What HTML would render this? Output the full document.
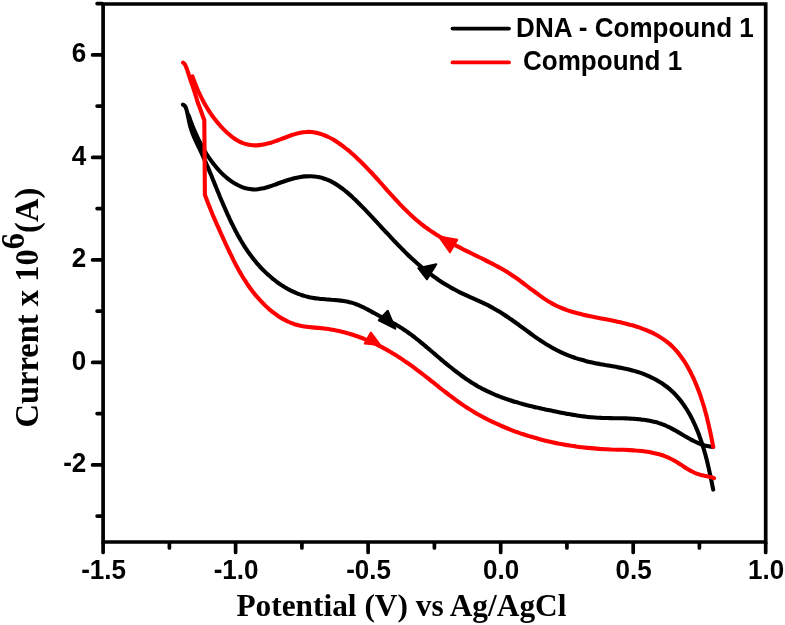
<!DOCTYPE html>
<html><head><meta charset="utf-8"><title>Cyclic voltammogram</title>
<style>
html,body{margin:0;padding:0;background:#fff;}
body{width:785px;height:625px;overflow:hidden;}
svg{display:block;filter:blur(0.4px);}
.ar text{font-family:"Liberation Sans",Arial,sans-serif;font-weight:bold;font-size:27.4px;fill:#000;}
.ar text.lg{font-size:27px;}
.tm text{font-family:"Liberation Serif","Times New Roman",serif;font-weight:bold;font-size:30px;fill:#000;}
</style></head><body>
<svg width="785" height="625" viewBox="0 0 785 625">
<rect width="785" height="625" fill="#fff"/>
<g stroke="#000" stroke-width="3.7" fill="none" stroke-linecap="round">
<path d="M103.1 4.0H765.7V542.0H103.1Z" stroke-linejoin="miter" stroke-linecap="butt"/>
<path d="M103.1 543.0V552.5M235.6 543.0V552.5M368.1 543.0V552.5M500.7 543.0V552.5M633.2 543.0V552.5M765.7 543.0V552.5M169.4 543.0V548.0M301.9 543.0V548.0M434.4 543.0V548.0M566.9 543.0V548.0M699.4 543.0V548.0M102.1 54.9H92.6M102.1 157.4H92.6M102.1 259.9H92.6M102.1 362.4H92.6M102.1 464.9H92.6M102.1 3.6H97.1M102.1 106.1H97.1M102.1 208.6H97.1M102.1 311.1H97.1M102.1 413.6H97.1M102.1 516.1H97.1"/>
</g>
<g fill="none" stroke-width="4.1" stroke-linecap="round" stroke-linejoin="round">
<path stroke="#000" d="M188.7 115.5C189.1 116.4 190.0 119.3 190.7 121.2C191.4 123.1 192.1 125.0 192.8 126.9C193.6 128.7 194.4 130.6 195.2 132.4C196.0 134.2 196.8 136.0 197.7 137.9C198.6 139.7 199.5 141.5 200.4 143.2C201.4 145.0 202.3 146.8 203.3 148.6C204.3 150.3 205.4 152.1 206.4 153.8C207.5 155.5 208.6 157.2 209.8 158.9C211.0 160.6 212.2 162.2 213.4 163.8C214.7 165.4 216.0 167.0 217.4 168.6C218.7 170.1 220.2 171.6 221.6 173.1C223.1 174.6 224.7 176.0 226.2 177.3C227.8 178.6 229.4 179.9 231.1 181.1C232.7 182.2 234.4 183.3 236.2 184.3C237.9 185.2 239.7 186.1 241.5 186.8C243.3 187.5 245.1 188.1 246.9 188.6C248.8 189.0 250.6 189.3 252.5 189.4C254.4 189.5 256.2 189.4 258.1 189.2C260.0 189.0 261.9 188.6 263.9 188.2C265.8 187.7 267.7 187.1 269.6 186.5C271.6 185.9 273.5 185.2 275.5 184.5C277.4 183.7 279.4 183.0 281.4 182.3C283.3 181.6 285.3 180.9 287.3 180.2C289.3 179.6 291.3 179.0 293.3 178.5C295.3 178.0 297.3 177.6 299.2 177.2C301.2 176.9 303.2 176.6 305.2 176.4C307.1 176.2 309.1 176.2 311.0 176.2C312.9 176.2 314.8 176.4 316.7 176.7C318.6 176.9 320.5 177.3 322.3 177.9C324.1 178.4 325.9 179.1 327.7 179.8C329.4 180.6 331.2 181.4 332.9 182.4C334.6 183.3 336.3 184.4 338.0 185.5C339.7 186.6 341.3 187.8 342.9 189.0C344.5 190.3 346.1 191.6 347.7 192.9C349.3 194.3 350.9 195.7 352.4 197.1C353.9 198.6 355.5 200.0 357.0 201.5C358.5 203.0 359.9 204.5 361.4 205.9C362.9 207.4 364.3 208.9 365.8 210.4C367.2 211.9 368.6 213.4 370.0 214.9C371.4 216.4 372.8 217.9 374.2 219.4C375.6 220.9 377.0 222.4 378.4 223.9C379.8 225.3 381.1 226.8 382.5 228.3C383.9 229.8 385.2 231.3 386.6 232.7C388.0 234.2 389.3 235.7 390.7 237.1C392.1 238.6 393.4 240.1 394.8 241.5C396.2 242.9 397.5 244.4 398.9 245.8C400.3 247.2 401.7 248.6 403.1 250.0C404.5 251.4 405.9 252.8 407.3 254.2C408.7 255.6 410.1 256.9 411.6 258.3C413.0 259.6 414.5 261.0 416.0 262.3C417.4 263.6 418.9 264.9 420.5 266.2C422.0 267.5 423.5 268.8 425.1 270.0C426.6 271.2 428.2 272.5 429.8 273.7C431.4 274.9 433.0 276.1 434.7 277.2C436.3 278.4 438.0 279.6 439.7 280.7C441.4 281.8 443.1 282.9 444.9 284.0C446.6 285.0 448.4 286.1 450.1 287.1C451.9 288.1 453.7 289.1 455.5 290.0C457.3 291.0 459.1 291.9 460.9 292.8C462.7 293.7 464.6 294.6 466.4 295.4C468.2 296.3 470.1 297.1 471.9 297.9C473.8 298.7 475.6 299.5 477.4 300.3C479.3 301.1 481.1 302.0 482.9 302.8C484.7 303.7 486.5 304.5 488.3 305.4C490.0 306.3 491.8 307.3 493.5 308.3C495.3 309.2 497.0 310.3 498.7 311.3C500.4 312.3 502.1 313.4 503.8 314.5C505.4 315.6 507.1 316.7 508.8 317.8C510.4 319.0 512.1 320.1 513.7 321.3C515.4 322.5 517.0 323.6 518.7 324.8C520.3 326.0 521.9 327.2 523.6 328.4C525.2 329.6 526.8 330.8 528.5 332.0C530.1 333.2 531.7 334.4 533.4 335.6C535.0 336.7 536.7 337.9 538.4 339.1C540.0 340.2 541.7 341.3 543.4 342.4C545.1 343.5 546.8 344.6 548.5 345.6C550.3 346.7 552.0 347.7 553.8 348.6C555.5 349.6 557.3 350.5 559.1 351.4C560.9 352.2 562.7 353.1 564.6 353.8C566.4 354.6 568.3 355.4 570.2 356.1C572.0 356.8 573.9 357.4 575.8 358.1C577.7 358.7 579.7 359.3 581.6 359.8C583.5 360.4 585.5 360.9 587.4 361.4C589.4 361.9 591.4 362.3 593.3 362.7C595.3 363.2 597.3 363.6 599.3 363.9C601.2 364.3 603.2 364.6 605.2 365.0C607.2 365.3 609.2 365.7 611.2 366.0C613.2 366.4 615.2 366.7 617.2 367.1C619.2 367.4 621.2 367.8 623.1 368.2C625.1 368.6 627.1 369.0 629.0 369.5C631.0 370.0 633.0 370.5 634.9 371.1C636.8 371.7 638.8 372.3 640.7 372.9C642.6 373.6 644.5 374.3 646.3 375.1C648.2 375.9 650.0 376.7 651.8 377.6C653.6 378.4 655.4 379.4 657.2 380.4C658.9 381.4 660.6 382.4 662.3 383.5C663.9 384.6 665.5 385.8 667.1 387.0C668.7 388.2 670.2 389.5 671.6 390.9C673.1 392.2 674.5 393.6 675.9 395.1C677.2 396.6 678.5 398.1 679.8 399.6C681.1 401.2 682.3 402.8 683.4 404.5C684.6 406.1 685.7 407.8 686.8 409.5C687.9 411.3 688.9 413.0 689.9 414.8C690.9 416.6 691.8 418.4 692.7 420.2C693.6 422.1 694.5 423.9 695.3 425.8C696.1 427.7 696.9 429.5 697.7 431.4C698.4 433.3 699.2 435.2 699.8 437.1C700.5 439.0 701.2 440.9 701.8 442.8C702.4 444.7 703.0 446.6 703.6 448.5C704.2 450.5 704.7 452.4 705.3 454.3C705.8 456.2 706.3 458.2 706.8 460.1C707.3 462.0 707.7 464.0 708.2 465.9C708.6 467.9 709.1 469.8 709.5 471.8C709.9 473.8 710.4 475.7 710.8 477.7C711.2 479.7 711.6 481.6 712.0 483.6C712.4 485.6 713.0 488.6 713.2 489.6"/>
<path stroke="#000" d="M183.0 104.6C183.4 104.9 184.7 105.8 185.3 106.6C185.8 107.4 186.1 108.4 186.4 109.4C186.7 110.3 186.9 111.3 187.2 112.3C187.4 113.3 187.6 114.2 187.8 115.2C188.0 116.2 188.2 117.2 188.4 118.2C188.6 119.2 188.8 120.2 189.0 121.2C189.2 122.2 189.4 123.1 189.7 124.1C189.9 125.1 190.2 126.1 190.4 127.0C190.7 128.0 191.0 128.9 191.3 129.9C191.6 130.8 192.0 131.8 192.3 132.7C192.7 133.6 193.0 134.5 193.4 135.5C193.8 136.4 194.2 137.3 194.6 138.2C195.0 139.1 195.4 140.0 195.8 140.9C196.2 141.8 196.6 142.7 197.0 143.6C197.5 144.5 197.9 145.4 198.3 146.3C198.7 147.2 199.2 148.1 199.6 149.0C200.0 149.9 200.5 150.8 200.9 151.7C201.3 152.7 201.8 153.6 202.2 154.5C202.6 155.4 203.0 156.3 203.4 157.2C203.8 158.1 204.3 159.0 204.7 160.0C205.1 160.9 205.5 161.8 205.9 162.7C206.3 163.7 206.7 164.6 207.1 165.5C207.5 166.4 207.9 167.4 208.3 168.3C208.7 169.2 209.1 170.2 209.4 171.1C209.8 172.0 210.2 173.0 210.6 173.9C211.0 174.8 211.4 175.8 211.8 176.7C212.2 177.6 212.5 178.6 212.9 179.5C213.3 180.5 213.7 181.4 214.1 182.3C214.5 183.3 214.8 184.2 215.2 185.2C215.6 186.1 216.0 187.0 216.4 188.0C216.8 188.9 217.1 189.9 217.5 190.8C217.9 191.7 218.3 192.7 218.7 193.6C219.1 194.6 219.5 195.5 219.8 196.4C220.2 197.4 220.6 198.3 221.0 199.2C221.4 200.2 221.8 201.1 222.2 202.0C222.6 203.0 223.0 203.9 223.4 204.8C223.8 205.8 224.2 206.7 224.6 207.6C225.0 208.6 225.4 209.5 225.8 210.4C226.2 211.3 226.6 212.3 227.0 213.2C227.4 214.1 227.8 215.0 228.3 215.9C228.7 216.8 229.1 217.8 229.5 218.7C229.9 219.6 230.4 220.5 230.8 221.4C231.2 222.3 231.7 223.2 232.1 224.1C232.6 225.0 233.0 225.9 233.5 226.8C233.9 227.7 234.4 228.6 234.8 229.5C235.3 230.4 235.7 231.3 236.2 232.1C236.7 233.0 237.2 233.9 237.6 234.8C238.1 235.6 238.6 236.5 239.1 237.4C239.6 238.2 240.1 239.1 240.6 240.0C241.1 240.8 241.6 241.7 242.1 242.5C242.6 243.4 243.1 244.2 243.7 245.1C244.2 245.9 244.7 246.7 245.3 247.6C245.8 248.4 246.4 249.2 246.9 250.0C247.5 250.9 248.1 251.7 248.6 252.5C249.2 253.3 249.8 254.1 250.4 254.9C250.9 255.7 251.5 256.5 252.1 257.3C252.7 258.1 253.4 258.9 254.0 259.6C254.6 260.4 255.2 261.2 255.9 261.9C256.5 262.7 257.1 263.5 257.8 264.2C258.5 265.0 259.1 265.7 259.8 266.5C260.5 267.2 261.1 267.9 261.8 268.6C262.5 269.4 263.2 270.1 263.9 270.8C264.7 271.5 265.4 272.2 266.1 272.9C266.8 273.6 267.6 274.3 268.3 274.9C269.1 275.6 269.8 276.3 270.6 276.9C271.3 277.6 272.1 278.2 272.9 278.9C273.7 279.5 274.5 280.1 275.3 280.7C276.1 281.4 276.9 282.0 277.7 282.6C278.5 283.1 279.3 283.7 280.1 284.3C281.0 284.8 281.8 285.4 282.7 285.9C283.5 286.5 284.4 287.0 285.2 287.5C286.1 288.0 286.9 288.5 287.8 289.0C288.7 289.5 289.6 289.9 290.5 290.4C291.4 290.8 292.3 291.3 293.2 291.7C294.1 292.1 295.0 292.5 295.9 292.9C296.8 293.3 297.7 293.7 298.7 294.0C299.6 294.4 300.5 294.7 301.5 295.0C302.4 295.3 303.4 295.6 304.3 295.9C305.3 296.2 306.3 296.5 307.2 296.7C308.2 297.0 309.2 297.2 310.2 297.4C311.2 297.6 312.1 297.8 313.1 297.9C314.1 298.1 315.1 298.2 316.1 298.4C317.1 298.5 318.2 298.6 319.2 298.7C320.2 298.9 321.2 299.0 322.2 299.0C323.2 299.1 324.2 299.2 325.3 299.3C326.3 299.4 327.3 299.5 328.3 299.5C329.4 299.6 330.4 299.7 331.4 299.8C332.4 299.8 333.4 299.9 334.4 300.0C335.5 300.1 336.5 300.2 337.5 300.3C338.5 300.4 339.5 300.5 340.5 300.6C341.5 300.7 342.5 300.9 343.5 301.0C344.5 301.2 345.5 301.4 346.5 301.5C347.5 301.7 348.4 301.9 349.4 302.2C350.4 302.4 351.3 302.6 352.3 302.9C353.3 303.2 354.2 303.5 355.1 303.8C356.1 304.2 357.0 304.5 357.9 304.9C358.9 305.3 359.8 305.7 360.7 306.1C361.6 306.5 362.5 306.9 363.4 307.3C364.3 307.8 365.2 308.2 366.1 308.7C367.0 309.2 367.9 309.6 368.8 310.1C369.7 310.6 370.6 311.1 371.4 311.6C372.3 312.1 373.2 312.6 374.1 313.0C375.0 313.5 375.9 314.0 376.8 314.5C377.7 315.0 378.6 315.5 379.5 316.0C380.3 316.4 381.2 316.9 382.1 317.4C383.0 317.8 383.9 318.3 384.8 318.8C385.7 319.2 386.6 319.7 387.5 320.2C388.4 320.6 389.3 321.1 390.2 321.6C391.1 322.0 392.0 322.5 392.9 323.0C393.7 323.5 394.6 324.0 395.5 324.4C396.4 324.9 397.2 325.4 398.1 325.9C398.9 326.5 399.8 327.0 400.6 327.5C401.5 328.0 402.3 328.6 403.1 329.1C404.0 329.7 404.8 330.2 405.6 330.8C406.5 331.3 407.3 331.9 408.1 332.5C408.9 333.1 409.7 333.7 410.5 334.2C411.3 334.8 412.1 335.4 412.9 336.0C413.7 336.6 414.5 337.3 415.3 337.9C416.1 338.5 416.8 339.1 417.6 339.7C418.4 340.3 419.2 341.0 420.0 341.6C420.7 342.2 421.5 342.9 422.3 343.5C423.1 344.1 423.8 344.8 424.6 345.4C425.4 346.1 426.1 346.7 426.9 347.4C427.7 348.0 428.4 348.7 429.2 349.3C430.0 350.0 430.7 350.6 431.5 351.3C432.3 351.9 433.0 352.6 433.8 353.2C434.6 353.9 435.3 354.6 436.1 355.2C436.9 355.9 437.6 356.5 438.4 357.2C439.2 357.8 439.9 358.5 440.7 359.1C441.5 359.8 442.3 360.4 443.0 361.1C443.8 361.7 444.6 362.4 445.4 363.0C446.1 363.7 446.9 364.3 447.7 364.9C448.5 365.6 449.3 366.2 450.0 366.8C450.8 367.5 451.6 368.1 452.4 368.7C453.2 369.4 454.0 370.0 454.8 370.6C455.6 371.2 456.4 371.8 457.2 372.4C458.0 373.0 458.8 373.6 459.6 374.2C460.4 374.8 461.2 375.4 462.0 376.0C462.8 376.6 463.6 377.2 464.5 377.8C465.3 378.3 466.1 378.9 466.9 379.5C467.8 380.0 468.6 380.6 469.4 381.1C470.3 381.7 471.1 382.2 471.9 382.8C472.8 383.3 473.6 383.8 474.5 384.3C475.4 384.9 476.2 385.4 477.1 385.9C477.9 386.4 478.8 386.9 479.7 387.3C480.6 387.8 481.4 388.3 482.3 388.8C483.2 389.2 484.1 389.7 485.0 390.1C485.9 390.6 486.8 391.0 487.7 391.4C488.6 391.9 489.5 392.3 490.4 392.7C491.3 393.1 492.2 393.5 493.2 393.9C494.1 394.3 495.0 394.7 495.9 395.1C496.9 395.5 497.8 395.8 498.7 396.2C499.7 396.6 500.6 396.9 501.5 397.3C502.5 397.6 503.4 398.0 504.4 398.3C505.3 398.6 506.3 399.0 507.2 399.3C508.2 399.6 509.1 399.9 510.1 400.3C511.0 400.6 512.0 400.9 513.0 401.2C513.9 401.5 514.9 401.8 515.9 402.1C516.8 402.3 517.8 402.6 518.8 402.9C519.7 403.2 520.7 403.5 521.7 403.7C522.6 404.0 523.6 404.3 524.6 404.5C525.6 404.8 526.5 405.0 527.5 405.3C528.5 405.5 529.5 405.8 530.4 406.0C531.4 406.3 532.4 406.5 533.4 406.7C534.4 407.0 535.3 407.2 536.3 407.4C537.3 407.7 538.3 407.9 539.3 408.1C540.2 408.3 541.2 408.5 542.2 408.8C543.2 409.0 544.2 409.2 545.1 409.4C546.1 409.6 547.1 409.8 548.1 410.0C549.1 410.2 550.1 410.4 551.0 410.6C552.0 410.8 553.0 411.0 554.0 411.2C555.0 411.4 555.9 411.6 556.9 411.8C557.9 412.0 558.9 412.2 559.9 412.4C560.9 412.6 561.8 412.8 562.8 413.0C563.8 413.2 564.8 413.4 565.8 413.6C566.7 413.7 567.7 413.9 568.7 414.1C569.7 414.3 570.7 414.4 571.6 414.6C572.6 414.8 573.6 414.9 574.6 415.1C575.6 415.3 576.6 415.4 577.5 415.6C578.5 415.7 579.5 415.9 580.5 416.0C581.5 416.1 582.5 416.3 583.5 416.4C584.5 416.5 585.5 416.6 586.4 416.7C587.4 416.9 588.4 417.0 589.4 417.1C590.4 417.2 591.4 417.2 592.4 417.3C593.4 417.4 594.4 417.5 595.4 417.5C596.4 417.6 597.5 417.7 598.5 417.7C599.5 417.8 600.5 417.8 601.5 417.9C602.5 417.9 603.5 417.9 604.5 418.0C605.5 418.0 606.5 418.0 607.6 418.0C608.6 418.1 609.6 418.1 610.6 418.1C611.6 418.1 612.6 418.1 613.7 418.2C614.7 418.2 615.7 418.2 616.7 418.2C617.7 418.2 618.7 418.2 619.7 418.3C620.8 418.3 621.8 418.3 622.8 418.3C623.8 418.4 624.8 418.4 625.8 418.4C626.8 418.5 627.8 418.5 628.8 418.5C629.8 418.6 630.9 418.6 631.9 418.7C632.9 418.8 633.9 418.8 634.9 418.9C635.9 419.0 636.9 419.0 637.8 419.1C638.8 419.2 639.8 419.3 640.8 419.4C641.8 419.6 642.8 419.7 643.8 419.8C644.8 419.9 645.7 420.1 646.7 420.2C647.7 420.4 648.7 420.6 649.6 420.8C650.6 421.0 651.5 421.2 652.5 421.4C653.5 421.6 654.4 421.8 655.4 422.1C656.3 422.3 657.3 422.6 658.2 422.9C659.1 423.2 660.1 423.5 661.0 423.8C661.9 424.1 662.9 424.5 663.8 424.8C664.7 425.2 665.6 425.6 666.5 426.0C667.4 426.4 668.3 426.8 669.2 427.2C670.1 427.7 671.0 428.1 671.9 428.6C672.8 429.1 673.7 429.6 674.6 430.1C675.5 430.6 676.3 431.1 677.2 431.6C678.1 432.1 679.0 432.6 679.9 433.1C680.7 433.7 681.6 434.2 682.5 434.7C683.4 435.2 684.3 435.8 685.1 436.3C686.0 436.8 686.9 437.3 687.8 437.8C688.7 438.3 689.6 438.8 690.5 439.3C691.4 439.8 692.2 440.3 693.2 440.7C694.1 441.2 695.0 441.6 695.9 442.0C696.8 442.5 697.7 442.9 698.6 443.2C699.6 443.6 700.5 444.0 701.4 444.3C702.4 444.7 703.3 445.0 704.3 445.3C705.3 445.5 706.2 445.8 707.2 446.0C708.2 446.2 709.2 446.4 710.2 446.6C711.2 446.7 712.7 446.8 713.2 446.9"/>
<path stroke="#fe0000" d="M192.4 76.4C192.8 77.3 193.8 80.2 194.5 82.1C195.3 83.9 196.0 85.8 196.8 87.7C197.6 89.5 198.4 91.4 199.2 93.2C200.1 95.0 201.0 96.8 201.9 98.6C202.8 100.4 203.7 102.1 204.7 103.9C205.7 105.6 206.7 107.4 207.8 109.1C208.8 110.8 209.9 112.5 211.1 114.1C212.2 115.8 213.4 117.4 214.7 119.0C215.9 120.6 217.2 122.2 218.6 123.8C219.9 125.4 221.3 126.9 222.7 128.4C224.2 129.9 225.7 131.4 227.2 132.8C228.8 134.2 230.4 135.6 232.0 136.8C233.6 138.0 235.3 139.2 237.0 140.2C238.7 141.2 240.5 142.1 242.3 142.9C244.1 143.6 245.9 144.2 247.7 144.6C249.6 145.0 251.4 145.2 253.3 145.3C255.2 145.4 257.1 145.3 259.1 145.1C261.0 144.9 262.9 144.6 264.9 144.2C266.9 143.8 268.8 143.2 270.8 142.7C272.8 142.1 274.7 141.4 276.7 140.7C278.7 140.0 280.7 139.2 282.6 138.5C284.6 137.7 286.6 136.9 288.6 136.2C290.5 135.5 292.5 134.8 294.4 134.3C296.4 133.7 298.3 133.1 300.3 132.8C302.2 132.4 304.1 132.1 306.1 132.0C308.0 131.8 309.9 131.9 311.8 132.0C313.7 132.2 315.5 132.5 317.4 133.0C319.3 133.4 321.1 134.0 322.9 134.7C324.8 135.3 326.6 136.1 328.4 137.0C330.1 137.8 331.9 138.8 333.7 139.8C335.4 140.9 337.1 142.0 338.8 143.2C340.5 144.3 342.2 145.6 343.8 146.8C345.5 148.1 347.1 149.4 348.7 150.7C350.3 152.0 351.8 153.4 353.4 154.8C354.9 156.1 356.4 157.5 357.9 159.0C359.4 160.4 360.9 161.8 362.3 163.2C363.8 164.7 365.2 166.1 366.6 167.6C368.0 169.1 369.4 170.5 370.8 172.0C372.2 173.5 373.6 175.0 374.9 176.5C376.3 178.0 377.7 179.5 379.0 181.0C380.3 182.5 381.7 184.0 383.0 185.5C384.4 187.1 385.7 188.6 387.0 190.1C388.4 191.6 389.7 193.1 391.1 194.6C392.4 196.0 393.8 197.5 395.1 199.0C396.5 200.5 397.8 201.9 399.2 203.4C400.6 204.8 402.0 206.3 403.4 207.7C404.7 209.1 406.2 210.5 407.6 211.9C409.0 213.3 410.5 214.7 411.9 216.0C413.4 217.3 414.9 218.7 416.4 220.0C417.9 221.3 419.4 222.5 421.0 223.8C422.6 225.0 424.1 226.2 425.8 227.4C427.4 228.6 429.0 229.7 430.7 230.9C432.4 232.0 434.0 233.1 435.8 234.2C437.5 235.3 439.2 236.3 440.9 237.4C442.7 238.4 444.5 239.4 446.2 240.4C448.0 241.4 449.8 242.4 451.6 243.3C453.4 244.3 455.2 245.3 457.0 246.2C458.8 247.1 460.6 248.0 462.5 249.0C464.3 249.9 466.1 250.8 467.9 251.7C469.7 252.6 471.6 253.4 473.4 254.3C475.2 255.2 477.0 256.1 478.8 257.0C480.6 257.8 482.4 258.7 484.2 259.6C485.9 260.5 487.7 261.4 489.5 262.3C491.3 263.2 493.0 264.1 494.8 265.0C496.5 265.9 498.2 266.9 500.0 267.8C501.7 268.8 503.4 269.8 505.1 270.8C506.8 271.8 508.5 272.9 510.2 274.0C511.9 275.1 513.6 276.2 515.2 277.3C516.9 278.5 518.6 279.7 520.2 280.9C521.8 282.1 523.5 283.3 525.1 284.6C526.8 285.8 528.4 287.0 530.0 288.3C531.7 289.5 533.3 290.8 535.0 292.0C536.6 293.2 538.2 294.5 539.9 295.6C541.6 296.8 543.2 298.0 544.9 299.1C546.6 300.2 548.3 301.3 550.0 302.3C551.8 303.3 553.5 304.3 555.3 305.2C557.0 306.1 558.8 306.9 560.6 307.7C562.5 308.5 564.3 309.2 566.1 309.8C568.0 310.5 569.9 311.1 571.8 311.7C573.6 312.3 575.6 312.8 577.5 313.3C579.4 313.8 581.3 314.3 583.3 314.7C585.3 315.2 587.2 315.6 589.2 316.0C591.2 316.4 593.2 316.8 595.2 317.2C597.2 317.6 599.2 318.0 601.2 318.4C603.2 318.8 605.2 319.2 607.3 319.6C609.3 320.0 611.3 320.4 613.3 320.8C615.3 321.3 617.4 321.7 619.4 322.1C621.4 322.6 623.4 323.0 625.3 323.5C627.3 324.0 629.3 324.5 631.2 325.1C633.2 325.6 635.1 326.2 637.1 326.8C639.0 327.4 640.9 328.1 642.7 328.8C644.6 329.5 646.4 330.2 648.3 331.0C650.1 331.7 651.9 332.6 653.6 333.4C655.3 334.3 657.1 335.2 658.7 336.2C660.4 337.2 662.1 338.2 663.6 339.4C665.2 340.5 666.8 341.6 668.3 342.9C669.8 344.1 671.2 345.4 672.6 346.8C674.1 348.2 675.4 349.7 676.7 351.2C678.0 352.7 679.3 354.3 680.5 355.9C681.7 357.5 682.9 359.2 684.0 360.9C685.1 362.6 686.2 364.4 687.3 366.2C688.3 368.0 689.3 369.8 690.3 371.7C691.2 373.6 692.2 375.5 693.1 377.4C693.9 379.3 694.8 381.2 695.6 383.1C696.4 385.0 697.2 387.0 697.9 388.9C698.7 390.8 699.4 392.8 700.1 394.7C700.7 396.6 701.4 398.6 702.0 400.5C702.6 402.4 703.2 404.3 703.8 406.1C704.3 408.0 704.9 409.9 705.4 411.8C705.9 413.7 706.4 415.5 706.9 417.4C707.3 419.3 707.8 421.2 708.2 423.1C708.7 425.0 709.1 426.9 709.5 428.8C710.0 430.7 710.4 432.7 710.8 434.7C711.2 436.6 711.6 438.6 712.0 440.7C712.4 442.7 713.0 445.9 713.2 446.9"/>
<path stroke="#fe0000" stroke-linejoin="miter" d="M183.0 62.6C183.3 62.9 184.2 63.5 184.8 64.3C185.4 65.1 185.8 66.3 186.3 67.5C186.8 68.7 187.2 70.1 187.7 71.5C188.2 72.9 188.6 74.2 189.2 76.0C189.8 77.8 190.6 80.5 191.3 82.5C192.0 84.5 192.6 85.9 193.3 88.0C194.0 90.1 194.8 92.6 195.5 95.0C196.2 97.4 197.1 100.4 197.8 102.5C198.5 104.6 198.6 104.5 199.7 107.5C200.8 110.5 203.5 118.1 204.3 120.2L204.9 194.6"/>
<path stroke="#fe0000" d="M204.9 194.6C205.2 195.5 206.2 198.3 206.9 200.2C207.6 202.1 208.3 203.9 209.1 205.8C209.8 207.6 210.6 209.5 211.3 211.3C212.1 213.2 212.8 215.1 213.6 216.9C214.4 218.7 215.2 220.6 216.0 222.4C216.8 224.3 217.6 226.1 218.5 227.9C219.3 229.8 220.1 231.6 220.9 233.4C221.8 235.3 222.6 237.1 223.4 238.9C224.3 240.8 225.1 242.6 225.9 244.4C226.8 246.2 227.6 248.0 228.5 249.8C229.3 251.6 230.2 253.4 231.1 255.2C231.9 257.0 232.8 258.8 233.7 260.6C234.6 262.3 235.5 264.1 236.5 265.9C237.4 267.6 238.4 269.3 239.3 271.1C240.3 272.8 241.3 274.5 242.3 276.2C243.3 277.9 244.4 279.6 245.5 281.2C246.5 282.9 247.6 284.5 248.8 286.2C249.9 287.8 251.1 289.4 252.3 291.0C253.5 292.6 254.8 294.1 256.0 295.7C257.3 297.2 258.7 298.7 260.0 300.2C261.4 301.7 262.8 303.2 264.3 304.6C265.7 306.0 267.2 307.4 268.7 308.8C270.3 310.1 271.8 311.4 273.5 312.7C275.1 313.9 276.7 315.1 278.4 316.2C280.1 317.3 281.8 318.4 283.6 319.3C285.3 320.3 287.1 321.2 288.9 322.0C290.8 322.8 292.6 323.5 294.5 324.2C296.4 324.8 298.3 325.3 300.3 325.7C302.2 326.1 304.2 326.4 306.2 326.7C308.2 327.0 310.2 327.2 312.2 327.4C314.2 327.6 316.2 327.7 318.2 327.9C320.3 328.1 322.3 328.3 324.3 328.5C326.3 328.8 328.3 329.0 330.3 329.4C332.2 329.7 334.2 330.0 336.2 330.4C338.1 330.8 340.1 331.3 342.0 331.7C343.9 332.2 345.9 332.7 347.8 333.3C349.7 333.8 351.6 334.4 353.5 335.0C355.4 335.7 357.2 336.3 359.1 337.0C361.0 337.7 362.8 338.4 364.7 339.2C366.5 339.9 368.3 340.7 370.1 341.5C372.0 342.3 373.8 343.1 375.6 344.0C377.4 344.9 379.1 345.8 380.9 346.7C382.7 347.6 384.4 348.6 386.2 349.5C387.9 350.5 389.7 351.5 391.4 352.5C393.1 353.5 394.8 354.6 396.5 355.6C398.2 356.7 399.9 357.8 401.6 358.9C403.2 360.0 404.9 361.1 406.5 362.3C408.2 363.4 409.8 364.5 411.4 365.7C413.1 366.9 414.7 368.1 416.3 369.3C417.9 370.5 419.5 371.7 421.0 372.9C422.6 374.1 424.2 375.4 425.8 376.6C427.4 377.8 428.9 379.1 430.5 380.3C432.1 381.5 433.6 382.8 435.2 384.0C436.8 385.3 438.3 386.5 439.9 387.8C441.5 389.0 443.0 390.2 444.6 391.5C446.2 392.7 447.8 393.9 449.3 395.1C450.9 396.3 452.5 397.5 454.1 398.7C455.7 399.9 457.4 401.1 459.0 402.2C460.6 403.4 462.2 404.5 463.9 405.6C465.6 406.7 467.2 407.8 468.9 408.9C470.6 410.0 472.3 411.0 474.0 412.0C475.7 413.1 477.5 414.1 479.2 415.0C481.0 416.0 482.7 417.0 484.5 417.9C486.3 418.8 488.1 419.7 489.9 420.6C491.7 421.5 493.5 422.4 495.3 423.2C497.2 424.1 499.0 424.9 500.8 425.7C502.7 426.5 504.5 427.3 506.4 428.0C508.3 428.8 510.1 429.5 512.0 430.3C513.9 431.0 515.8 431.7 517.7 432.3C519.6 433.0 521.5 433.7 523.4 434.3C525.3 434.9 527.2 435.5 529.1 436.1C531.1 436.7 533.0 437.3 534.9 437.8C536.8 438.4 538.8 438.9 540.7 439.4C542.6 439.9 544.6 440.4 546.5 440.9C548.5 441.4 550.4 441.8 552.3 442.2C554.3 442.7 556.2 443.1 558.2 443.5C560.1 443.8 562.1 444.2 564.0 444.6C566.0 444.9 567.9 445.2 569.9 445.6C571.8 445.9 573.8 446.2 575.8 446.4C577.7 446.7 579.7 447.0 581.7 447.2C583.6 447.5 585.6 447.7 587.6 447.9C589.6 448.1 591.6 448.3 593.6 448.4C595.5 448.6 597.5 448.7 599.5 448.9C601.5 449.0 603.5 449.1 605.5 449.2C607.6 449.3 609.6 449.4 611.6 449.5C613.6 449.5 615.6 449.6 617.6 449.7C619.6 449.7 621.7 449.8 623.7 449.8C625.7 449.9 627.7 450.0 629.7 450.1C631.7 450.2 633.7 450.3 635.7 450.5C637.7 450.6 639.7 450.8 641.7 451.0C643.7 451.2 645.6 451.5 647.6 451.8C649.5 452.1 651.5 452.5 653.4 452.9C655.3 453.3 657.2 453.8 659.1 454.3C661.0 454.9 662.9 455.5 664.7 456.2C666.6 456.9 668.4 457.6 670.2 458.5C672.0 459.3 673.8 460.3 675.5 461.3C677.3 462.3 679.0 463.5 680.7 464.6C682.5 465.7 684.2 466.9 685.9 468.0C687.6 469.1 689.4 470.2 691.2 471.1C692.9 472.1 694.7 473.0 696.6 473.7C698.5 474.4 700.4 474.8 702.3 475.3C704.2 475.8 706.2 476.0 708.2 476.5C710.1 476.9 713.0 477.8 714.0 478.1"/>
</g>
<g stroke-width="2" stroke-linejoin="round">
<path fill="#000" stroke="#000" d="M418.3 268.2L436.3 264.3L427 279.3Z"/>
<path fill="#000" stroke="#000" d="M387.8 310.8L378.8 320.3L395.3 328.7Z"/>
<path fill="#fe0000" stroke="#fe0000" d="M438.8 236.5L457.3 239.8L449.9 252.3Z"/>
<path fill="#fe0000" stroke="#fe0000" d="M370.9 332.6L364.7 343.6L380 344.9Z"/>
</g>
<path d="M452.5 28.6H509" stroke="#000" stroke-width="3.8" stroke-linecap="round"/>
<path d="M452.5 62.4H509" stroke="#fe0000" stroke-width="3.8" stroke-linecap="round"/>
<g class="ar">
<text transform="translate(516.1 36.8) scale(0.965 1)" class="lg">DNA - Compound 1</text>
<text transform="translate(523 70) scale(0.965 1)" class="lg">Compound 1</text>
<text transform="translate(103.6 579) scale(0.95 1)" text-anchor="middle">-1.5</text>
<text transform="translate(236.1 579) scale(0.95 1)" text-anchor="middle">-1.0</text>
<text transform="translate(368.6 579) scale(0.95 1)" text-anchor="middle">-0.5</text>
<text transform="translate(501.2 579) scale(0.95 1)" text-anchor="middle">0.0</text>
<text transform="translate(633.7 579) scale(0.95 1)" text-anchor="middle">0.5</text>
<text transform="translate(766.2 579) scale(0.95 1)" text-anchor="middle">1.0</text>
<text transform="translate(86.3 62.4) scale(0.95 1)" text-anchor="end">6</text>
<text transform="translate(86.3 164.9) scale(0.95 1)" text-anchor="end">4</text>
<text transform="translate(86.3 267.4) scale(0.95 1)" text-anchor="end">2</text>
<text transform="translate(86.3 369.9) scale(0.95 1)" text-anchor="end">0</text>
<text transform="translate(86.3 472.4) scale(0.95 1)" text-anchor="end">-2</text>
</g>
<g class="tm">
<text transform="translate(236.4 615.6) scale(1.025 1)" style="font-size:30.6px">Potential (V) vs Ag/AgCl</text>
<text transform="translate(37.6 427.6) rotate(-90) scale(0.972 1)" style="font-size:33.5px">Current x 10<tspan dy="-13.5">6</tspan><tspan dy="13.5">(A)</tspan></text>
</g>
</svg>
</body></html>
